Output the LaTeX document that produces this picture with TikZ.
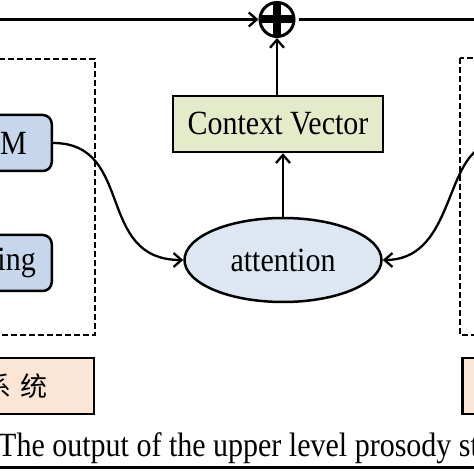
\documentclass[tikz,border=0pt]{standalone}
\usepackage{fontspec}
\usepackage{graphicx}
\setmainfont{Liberation Serif}
\newfontfamily\cjk{Noto Sans CJK SC}
\usetikzlibrary{positioning, arrows.meta, shapes.geometric}
\definecolor{ctxGreen}{HTML}{E3EBC9}
\definecolor{encBlue}{HTML}{C6D6EC}
\definecolor{attBlue}{HTML}{DDE6F1}
\definecolor{sysOrange}{HTML}{FBE6D6}
\newcommand{\tallt}[1]{\scalebox{1}[1.13]{#1}}

\begin{document}
\begin{tikzpicture}[
    x=1pt, y=1pt,
    every node/.style={font=\fontsize{30}{34}\selectfont},
    enc/.style={draw, line width=2.5pt, fill=encBlue, rounded corners=9pt, minimum height=56pt, anchor=east, align=right},
    sysbox/.style={draw, line width=2.5pt, fill=sysOrange, minimum height=56pt, anchor=east, align=right},
    ctx/.style={draw, line width=2.5pt, fill=ctxGreen, minimum width=210pt, minimum height=56pt},
    att/.style={draw, ellipse, line width=2.5pt, fill=attBlue, minimum width=197pt, minimum height=84pt},
    sumop/.style={circle, draw, line width=3pt, minimum size=34pt, inner sep=0pt,
      path picture={\draw[line width=8pt] (path picture bounding box.west) -- (path picture bounding box.east)
        (path picture bounding box.north) -- (path picture bounding box.south);}},
    arr/.style={-{Straight Barb[length=8pt, width=14pt]}, line width=2.3pt},
    grp/.style={draw, line width=1.5pt, dash pattern=on 6pt off 3pt},
  ]
    \useasboundingbox (0,0) rectangle (474,474);

    % left side (cut)
    \draw[grp] (-10,415) rectangle (95,139);
    \node[enc, text width=90pt, inner xsep=25pt] (lstm) at (53,331) {\tallt{TM}};
    \node[enc, text width=108pt, inner xsep=16pt] (embed) at (53,211) {\tallt{ing}};
    \node[sysbox, text width=90pt, inner xsep=46pt] (sysL) at (95,88) {\cjk\fontsize{27}{30}\selectfont 系\,\,统};

    % right side (cut)
    \draw[grp] (460,416) rectangle (500,139);
    \node[sysbox, anchor=west, minimum width=60pt] (sysR) at (461,88) {};
    \coordinate (inR) at (480,326);

    % middle
    \node[att] (attn) at (283,214) {\tallt{attention}};
    \node[ctx] (ctx) at (278,350) {\tallt{Context Vector}};
    \node[sumop] (sum) at (277,454.5) {};
    \coordinate (inL) at (0,454.5);
    \coordinate (outR) at (474,454.5);

    \draw[arr] (inL) -- (sum.west);
    \draw[line width=2.3pt, shorten <=3pt] (sum.east) -- (outR);
    \draw[arr] (ctx.north -| sum) -- (sum.south);
    \draw[arr] (attn.north) -- (attn.north |- ctx.south);
    \draw[arr] (lstm.east) .. controls (135,331) and (95,214) .. (attn.west);
    \draw[arr] (inR) .. controls (445,305) and (450,214) .. (attn.east);

    % caption
    \node[anchor=base west, inner sep=0pt] (cap) at (-2,17) {\tallt{The output of the upper level prosody str}};
    \draw[line width=3pt] (0,6) -- (474,6);
\end{tikzpicture}
\end{document}
